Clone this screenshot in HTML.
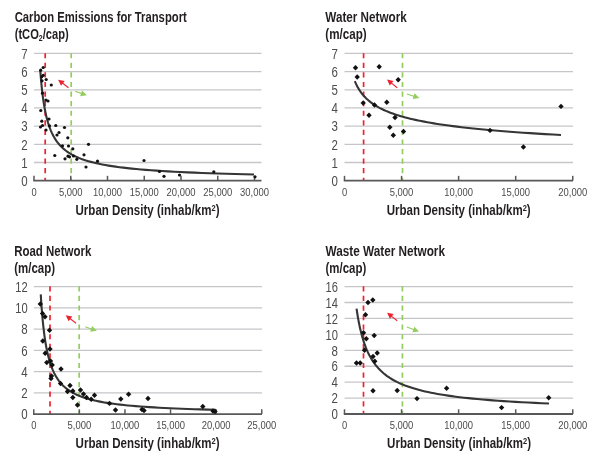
<!DOCTYPE html>
<html><head><meta charset="utf-8"><style>
html,body{margin:0;padding:0;background:#fff;}
svg{display:block;filter:blur(0.45px);}
text{font-family:"Liberation Sans",sans-serif;}
.tt{font-weight:bold;font-size:14.4px;fill:#231f20;}
.sub{font-size:9px;}
.sup{font-size:9.4px;font-weight:bold;}
.yl{font-size:15px;fill:#4b4b4d;}
.xl{font-size:10.7px;fill:#4b4b4d;}
</style></head><body>
<svg width="600" height="457" viewBox="0 0 600 457">
<rect width="600" height="457" fill="#fff"/>
<line x1="34" y1="162.48" x2="261.5" y2="162.48" stroke="#c6c6ca" stroke-width="1.3"/>
<line x1="34" y1="144.31" x2="261.5" y2="144.31" stroke="#c6c6ca" stroke-width="1.3"/>
<line x1="34" y1="126.14" x2="261.5" y2="126.14" stroke="#c6c6ca" stroke-width="1.3"/>
<line x1="34" y1="107.97" x2="261.5" y2="107.97" stroke="#c6c6ca" stroke-width="1.3"/>
<line x1="34" y1="89.8" x2="261.5" y2="89.8" stroke="#c6c6ca" stroke-width="1.3"/>
<line x1="34" y1="71.63" x2="261.5" y2="71.63" stroke="#c6c6ca" stroke-width="1.3"/>
<line x1="34" y1="53.46" x2="261.5" y2="53.46" stroke="#c6c6ca" stroke-width="1.3"/>
<line x1="45.2" y1="53.16" x2="45.2" y2="180.65" stroke="#ee2330" stroke-width="1.7" stroke-dasharray="5.2 4.38"/>
<line x1="71.2" y1="53.16" x2="71.2" y2="180.65" stroke="#93cd5f" stroke-width="1.7" stroke-dasharray="5.2 4.38"/>
<line x1="33.3" y1="180.65" x2="261.5" y2="180.65" stroke="#58585a" stroke-width="1.9"/>
<line x1="34" y1="175.85" x2="34" y2="180.65" stroke="#58585a" stroke-width="1.5"/>
<line x1="70.75" y1="175.85" x2="70.75" y2="180.65" stroke="#58585a" stroke-width="1.5"/>
<line x1="107.5" y1="175.85" x2="107.5" y2="180.65" stroke="#58585a" stroke-width="1.5"/>
<line x1="144.25" y1="175.85" x2="144.25" y2="180.65" stroke="#58585a" stroke-width="1.5"/>
<line x1="181" y1="175.85" x2="181" y2="180.65" stroke="#58585a" stroke-width="1.5"/>
<line x1="217.75" y1="175.85" x2="217.75" y2="180.65" stroke="#58585a" stroke-width="1.5"/>
<line x1="254.5" y1="175.85" x2="254.5" y2="180.65" stroke="#58585a" stroke-width="1.5"/>
<path d="M40.25 69.5 L40.54 73.42 L40.84 77.19 L41.15 80.84 L41.48 84.36 L41.83 87.75 L42.19 91.02 L42.57 94.18 L42.96 97.23 L43.38 100.17 L43.81 103 L44.26 105.74 L44.73 108.38 L45.23 110.92 L45.75 113.38 L46.29 115.75 L46.86 118.04 L47.45 120.24 L48.07 122.37 L48.72 124.42 L49.4 126.41 L50.11 128.32 L50.85 130.16 L51.63 131.94 L52.44 133.66 L53.29 135.31 L54.18 136.91 L55.11 138.45 L56.08 139.94 L57.1 141.37 L58.16 142.76 L59.28 144.09 L60.44 145.38 L61.66 146.62 L62.94 147.82 L64.27 148.98 L65.67 150.09 L67.13 151.17 L68.66 152.21 L70.25 153.21 L71.93 154.18 L73.67 155.11 L75.5 156.01 L77.42 156.88 L79.42 157.72 L81.51 158.52 L83.7 159.3 L86 160.06 L88.39 160.78 L90.9 161.48 L93.53 162.16 L96.27 162.81 L99.14 163.44 L102.14 164.04 L105.29 164.63 L108.57 165.19 L112.01 165.74 L115.61 166.26 L119.37 166.77 L123.31 167.26 L127.43 167.73 L131.73 168.19 L136.24 168.62 L140.95 169.05 L145.89 169.46 L151.04 169.85 L156.44 170.23 L162.09 170.6 L167.99 170.95 L174.17 171.29 L180.63 171.62 L187.39 171.94 L194.47 172.25 L201.87 172.55 L209.61 172.83 L217.7 173.11 L226.17 173.37 L235.03 173.63 L244.3 173.88 L254 174.11" fill="none" stroke="#353535" stroke-width="2.1" stroke-linecap="butt" transform="translate(0 0.4)"/>
<circle cx="43.2" cy="67.5" r="1.6" fill="#111"/>
<circle cx="40.7" cy="70.2" r="1.6" fill="#111"/>
<circle cx="43.2" cy="75.3" r="1.6" fill="#111"/>
<circle cx="41.7" cy="76.8" r="1.6" fill="#111"/>
<circle cx="46.2" cy="79.5" r="1.6" fill="#111"/>
<circle cx="42" cy="80.8" r="1.6" fill="#111"/>
<circle cx="51.3" cy="85" r="1.6" fill="#111"/>
<circle cx="42.5" cy="93.2" r="1.6" fill="#111"/>
<circle cx="46" cy="100" r="1.6" fill="#111"/>
<circle cx="48" cy="101" r="1.6" fill="#111"/>
<circle cx="40.8" cy="110.5" r="1.6" fill="#111"/>
<circle cx="49" cy="119" r="1.6" fill="#111"/>
<circle cx="41.8" cy="121.2" r="1.6" fill="#111"/>
<circle cx="40.5" cy="127" r="1.6" fill="#111"/>
<circle cx="42.5" cy="125.5" r="1.6" fill="#111"/>
<circle cx="49.5" cy="125.8" r="1.6" fill="#111"/>
<circle cx="55.8" cy="125.5" r="1.6" fill="#111"/>
<circle cx="64.5" cy="127.5" r="1.6" fill="#111"/>
<circle cx="46" cy="130" r="1.6" fill="#111"/>
<circle cx="57" cy="135" r="1.6" fill="#111"/>
<circle cx="59" cy="132.5" r="1.6" fill="#111"/>
<circle cx="67.8" cy="137.8" r="1.6" fill="#111"/>
<circle cx="88.5" cy="144.3" r="1.6" fill="#111"/>
<circle cx="62.5" cy="145.8" r="1.6" fill="#111"/>
<circle cx="68.5" cy="146" r="1.6" fill="#111"/>
<circle cx="72.8" cy="148.8" r="1.6" fill="#111"/>
<circle cx="54.8" cy="155.5" r="1.6" fill="#111"/>
<circle cx="68" cy="156.2" r="1.6" fill="#111"/>
<circle cx="69.5" cy="156.8" r="1.6" fill="#111"/>
<circle cx="73.5" cy="156" r="1.6" fill="#111"/>
<circle cx="84" cy="154.8" r="1.6" fill="#111"/>
<circle cx="65" cy="158.8" r="1.6" fill="#111"/>
<circle cx="76.8" cy="159.3" r="1.6" fill="#111"/>
<circle cx="86" cy="167" r="1.6" fill="#111"/>
<circle cx="97.5" cy="161.2" r="1.6" fill="#111"/>
<circle cx="144" cy="160.5" r="1.6" fill="#111"/>
<circle cx="159.5" cy="171.5" r="1.6" fill="#111"/>
<circle cx="164" cy="176.3" r="1.6" fill="#111"/>
<circle cx="179.5" cy="175" r="1.6" fill="#111"/>
<circle cx="213.8" cy="171.8" r="1.6" fill="#111"/>
<circle cx="255" cy="176.8" r="1.6" fill="#111"/>
<line x1="68.5" y1="87.7" x2="62.06" y2="82.75" stroke="#ee2330" stroke-width="1.1"/>
<path d="M58.1 79.7L64.68 80.98L61.03 85.74Z" fill="#ee2330"/>
<line x1="75.2" y1="91.3" x2="82.06" y2="93.61" stroke="#93cd5f" stroke-width="1.1"/>
<path d="M86.8 95.2L80.16 96.13L82.07 90.44Z" fill="#93cd5f"/>
<text x="27.6" y="185.85" text-anchor="end" class="yl" textLength="6.4" lengthAdjust="spacingAndGlyphs">0</text>
<text x="27.6" y="167.68" text-anchor="end" class="yl" textLength="6.4" lengthAdjust="spacingAndGlyphs">1</text>
<text x="27.6" y="149.51" text-anchor="end" class="yl" textLength="6.4" lengthAdjust="spacingAndGlyphs">2</text>
<text x="27.6" y="131.34" text-anchor="end" class="yl" textLength="6.4" lengthAdjust="spacingAndGlyphs">3</text>
<text x="27.6" y="113.17" text-anchor="end" class="yl" textLength="6.4" lengthAdjust="spacingAndGlyphs">4</text>
<text x="27.6" y="95" text-anchor="end" class="yl" textLength="6.4" lengthAdjust="spacingAndGlyphs">5</text>
<text x="27.6" y="76.83" text-anchor="end" class="yl" textLength="6.4" lengthAdjust="spacingAndGlyphs">6</text>
<text x="27.6" y="58.66" text-anchor="end" class="yl" textLength="6.4" lengthAdjust="spacingAndGlyphs">7</text>
<text x="31.4" y="195.85" class="xl" textLength="5.2" lengthAdjust="spacingAndGlyphs">0</text>
<text x="58.95" y="195.85" class="xl" textLength="23.6" lengthAdjust="spacingAndGlyphs">5,000</text>
<text x="93.1" y="195.85" class="xl" textLength="28.8" lengthAdjust="spacingAndGlyphs">10,000</text>
<text x="129.85" y="195.85" class="xl" textLength="28.8" lengthAdjust="spacingAndGlyphs">15,000</text>
<text x="166.6" y="195.85" class="xl" textLength="28.8" lengthAdjust="spacingAndGlyphs">20,000</text>
<text x="203.35" y="195.85" class="xl" textLength="28.8" lengthAdjust="spacingAndGlyphs">25,000</text>
<text x="240.1" y="195.85" class="xl" textLength="28.8" lengthAdjust="spacingAndGlyphs">30,000</text>
<text x="14.7" y="21.8" class="tt" textLength="172.1" lengthAdjust="spacingAndGlyphs">Carbon Emissions for Transport</text>
<text x="14.7" y="38.9" class="tt" textLength="54.1" lengthAdjust="spacingAndGlyphs">(tCO<tspan class="sub" dy="2">2</tspan><tspan dy="-2">/cap)</tspan></text>
<text x="75.5" y="215.4" class="tt" textLength="144" lengthAdjust="spacingAndGlyphs">Urban Density (inhab/km<tspan class="sup" dy="-4">2</tspan><tspan dy="4">)</tspan></text>
<line x1="344.5" y1="162.48" x2="573" y2="162.48" stroke="#c6c6ca" stroke-width="1.3"/>
<line x1="344.5" y1="144.31" x2="573" y2="144.31" stroke="#c6c6ca" stroke-width="1.3"/>
<line x1="344.5" y1="126.14" x2="573" y2="126.14" stroke="#c6c6ca" stroke-width="1.3"/>
<line x1="344.5" y1="107.97" x2="573" y2="107.97" stroke="#c6c6ca" stroke-width="1.3"/>
<line x1="344.5" y1="89.8" x2="573" y2="89.8" stroke="#c6c6ca" stroke-width="1.3"/>
<line x1="344.5" y1="71.63" x2="573" y2="71.63" stroke="#c6c6ca" stroke-width="1.3"/>
<line x1="344.5" y1="53.46" x2="573" y2="53.46" stroke="#c6c6ca" stroke-width="1.3"/>
<line x1="363.6" y1="53.16" x2="363.6" y2="180.65" stroke="#ee2330" stroke-width="1.7" stroke-dasharray="5.2 4.38"/>
<line x1="402.5" y1="53.16" x2="402.5" y2="180.65" stroke="#93cd5f" stroke-width="1.7" stroke-dasharray="5.2 4.38"/>
<line x1="343.8" y1="180.65" x2="573" y2="180.65" stroke="#58585a" stroke-width="1.9"/>
<line x1="344.5" y1="175.85" x2="344.5" y2="180.65" stroke="#58585a" stroke-width="1.5"/>
<line x1="401.56" y1="175.85" x2="401.56" y2="180.65" stroke="#58585a" stroke-width="1.5"/>
<line x1="458.62" y1="175.85" x2="458.62" y2="180.65" stroke="#58585a" stroke-width="1.5"/>
<line x1="515.68" y1="175.85" x2="515.68" y2="180.65" stroke="#58585a" stroke-width="1.5"/>
<line x1="572.74" y1="175.85" x2="572.74" y2="180.65" stroke="#58585a" stroke-width="1.5"/>
<path d="M354.86 80.8 L355.26 81.77 L355.69 82.74 L356.13 83.69 L356.58 84.64 L357.06 85.57 L357.55 86.5 L358.06 87.42 L358.59 88.33 L359.14 89.23 L359.72 90.12 L360.32 91 L360.94 91.87 L361.58 92.74 L362.25 93.6 L362.95 94.44 L363.67 95.28 L364.42 96.12 L365.21 96.94 L366.02 97.76 L366.86 98.56 L367.74 99.36 L368.65 100.16 L369.6 100.94 L370.58 101.72 L371.61 102.49 L372.67 103.25 L373.77 104 L374.92 104.75 L376.12 105.49 L377.36 106.22 L378.64 106.95 L379.98 107.67 L381.38 108.38 L382.82 109.08 L384.33 109.78 L385.89 110.47 L387.51 111.16 L389.2 111.83 L390.95 112.5 L392.78 113.17 L394.67 113.83 L396.64 114.48 L398.68 115.12 L400.81 115.76 L403.02 116.39 L405.31 117.02 L407.7 117.64 L410.18 118.26 L412.75 118.86 L415.43 119.47 L418.21 120.06 L421.11 120.65 L424.11 121.24 L427.23 121.82 L430.48 122.39 L433.85 122.96 L437.36 123.52 L441 124.08 L444.78 124.63 L448.72 125.17 L452.81 125.72 L457.06 126.25 L461.47 126.78 L466.06 127.31 L470.83 127.83 L475.78 128.34 L480.93 128.85 L486.29 129.36 L491.85 129.86 L497.63 130.35 L503.64 130.84 L509.88 131.33 L516.37 131.81 L523.11 132.28 L530.12 132.76 L537.4 133.22 L544.96 133.68 L552.83 134.14 L561 134.6" fill="none" stroke="#353535" stroke-width="2.1" stroke-linecap="butt" transform="translate(0 0.4)"/>
<path d="M355.5 65.1L358.2 67.8L355.5 70.5L352.8 67.8Z" fill="#111"/>
<path d="M379.2 64L381.9 66.7L379.2 69.4L376.5 66.7Z" fill="#111"/>
<path d="M357.2 74.3L359.9 77L357.2 79.7L354.5 77Z" fill="#111"/>
<path d="M398.2 77L400.9 79.7L398.2 82.4L395.5 79.7Z" fill="#111"/>
<path d="M363.2 100.3L365.9 103L363.2 105.7L360.5 103Z" fill="#111"/>
<path d="M374.5 102.3L377.2 105L374.5 107.7L371.8 105Z" fill="#111"/>
<path d="M386.8 99.6L389.5 102.3L386.8 105L384.1 102.3Z" fill="#111"/>
<path d="M369 112.6L371.7 115.3L369 118L366.3 115.3Z" fill="#111"/>
<path d="M395 114.8L397.7 117.5L395 120.2L392.3 117.5Z" fill="#111"/>
<path d="M389.8 124.5L392.5 127.2L389.8 129.9L387.1 127.2Z" fill="#111"/>
<path d="M393.3 132.5L396 135.2L393.3 137.9L390.6 135.2Z" fill="#111"/>
<path d="M403.5 128.8L406.2 131.5L403.5 134.2L400.8 131.5Z" fill="#111"/>
<path d="M490 127.7L492.7 130.4L490 133.1L487.3 130.4Z" fill="#111"/>
<path d="M523.4 144.3L526.1 147L523.4 149.7L520.7 147Z" fill="#111"/>
<path d="M561 103.7L563.7 106.4L561 109.1L558.3 106.4Z" fill="#111"/>
<line x1="397.2" y1="87.8" x2="390.88" y2="82.66" stroke="#ee2330" stroke-width="1.1"/>
<path d="M387 79.5L393.55 80.96L389.76 85.61Z" fill="#ee2330"/>
<line x1="406.9" y1="94" x2="414.54" y2="96.46" stroke="#93cd5f" stroke-width="1.1"/>
<path d="M419.3 98L412.67 99.01L414.51 93.3Z" fill="#93cd5f"/>
<text x="338" y="185.85" text-anchor="end" class="yl" textLength="6.4" lengthAdjust="spacingAndGlyphs">0</text>
<text x="338" y="167.68" text-anchor="end" class="yl" textLength="6.4" lengthAdjust="spacingAndGlyphs">1</text>
<text x="338" y="149.51" text-anchor="end" class="yl" textLength="6.4" lengthAdjust="spacingAndGlyphs">2</text>
<text x="338" y="131.34" text-anchor="end" class="yl" textLength="6.4" lengthAdjust="spacingAndGlyphs">3</text>
<text x="338" y="113.17" text-anchor="end" class="yl" textLength="6.4" lengthAdjust="spacingAndGlyphs">4</text>
<text x="338" y="95" text-anchor="end" class="yl" textLength="6.4" lengthAdjust="spacingAndGlyphs">5</text>
<text x="338" y="76.83" text-anchor="end" class="yl" textLength="6.4" lengthAdjust="spacingAndGlyphs">6</text>
<text x="338" y="58.66" text-anchor="end" class="yl" textLength="6.4" lengthAdjust="spacingAndGlyphs">7</text>
<text x="341.9" y="195.85" class="xl" textLength="5.2" lengthAdjust="spacingAndGlyphs">0</text>
<text x="389.76" y="195.85" class="xl" textLength="23.6" lengthAdjust="spacingAndGlyphs">5,000</text>
<text x="444.22" y="195.85" class="xl" textLength="28.8" lengthAdjust="spacingAndGlyphs">10,000</text>
<text x="501.28" y="195.85" class="xl" textLength="28.8" lengthAdjust="spacingAndGlyphs">15,000</text>
<text x="558.34" y="195.85" class="xl" textLength="28.8" lengthAdjust="spacingAndGlyphs">20,000</text>
<text x="325.3" y="21.8" class="tt" textLength="81.4" lengthAdjust="spacingAndGlyphs">Water Network</text>
<text x="325.3" y="38.9" class="tt" textLength="41.4" lengthAdjust="spacingAndGlyphs">(m/cap)</text>
<text x="386.7" y="215.4" class="tt" textLength="144" lengthAdjust="spacingAndGlyphs">Urban Density (inhab/km<tspan class="sup" dy="-4">2</tspan><tspan dy="4">)</tspan></text>
<line x1="33.75" y1="392.84" x2="262" y2="392.84" stroke="#c6c6ca" stroke-width="1.3"/>
<line x1="33.75" y1="371.58" x2="262" y2="371.58" stroke="#c6c6ca" stroke-width="1.3"/>
<line x1="33.75" y1="350.32" x2="262" y2="350.32" stroke="#c6c6ca" stroke-width="1.3"/>
<line x1="33.75" y1="329.06" x2="262" y2="329.06" stroke="#c6c6ca" stroke-width="1.3"/>
<line x1="33.75" y1="307.8" x2="262" y2="307.8" stroke="#c6c6ca" stroke-width="1.3"/>
<line x1="33.75" y1="286.54" x2="262" y2="286.54" stroke="#c6c6ca" stroke-width="1.3"/>
<line x1="50" y1="286.24" x2="50" y2="414.1" stroke="#ee2330" stroke-width="1.7" stroke-dasharray="5.2 4.38"/>
<line x1="79.2" y1="286.24" x2="79.2" y2="414.1" stroke="#93cd5f" stroke-width="1.7" stroke-dasharray="5.2 4.38"/>
<line x1="33.05" y1="414.1" x2="262" y2="414.1" stroke="#58585a" stroke-width="1.9"/>
<line x1="33.75" y1="409.3" x2="33.75" y2="414.1" stroke="#58585a" stroke-width="1.5"/>
<line x1="79.35" y1="409.3" x2="79.35" y2="414.1" stroke="#58585a" stroke-width="1.5"/>
<line x1="124.95" y1="409.3" x2="124.95" y2="414.1" stroke="#58585a" stroke-width="1.5"/>
<line x1="170.55" y1="409.3" x2="170.55" y2="414.1" stroke="#58585a" stroke-width="1.5"/>
<line x1="216.15" y1="409.3" x2="216.15" y2="414.1" stroke="#58585a" stroke-width="1.5"/>
<line x1="261.75" y1="409.3" x2="261.75" y2="414.1" stroke="#58585a" stroke-width="1.5"/>
<path d="M40.76 294 L41.06 298.82 L41.36 303.45 L41.68 307.9 L42.02 312.17 L42.37 316.26 L42.73 320.19 L43.11 323.96 L43.5 327.58 L43.91 331.06 L44.34 334.39 L44.78 337.6 L45.25 340.67 L45.73 343.62 L46.23 346.45 L46.76 349.17 L47.31 351.78 L47.88 354.28 L48.47 356.68 L49.09 358.99 L49.74 361.2 L50.41 363.33 L51.11 365.37 L51.84 367.32 L52.6 369.2 L53.39 371.01 L54.22 372.74 L55.08 374.4 L55.98 375.99 L56.91 377.53 L57.89 378.99 L58.9 380.4 L59.96 381.76 L61.06 383.06 L62.21 384.3 L63.41 385.5 L64.66 386.65 L65.96 387.75 L67.31 388.81 L68.72 389.83 L70.19 390.8 L71.73 391.74 L73.32 392.64 L74.99 393.5 L76.72 394.33 L78.53 395.12 L80.41 395.88 L82.38 396.61 L84.42 397.32 L86.55 397.99 L88.77 398.64 L91.09 399.26 L93.5 399.86 L96.01 400.43 L98.63 400.98 L101.36 401.5 L104.21 402.01 L107.17 402.5 L110.26 402.96 L113.47 403.41 L116.83 403.84 L120.32 404.25 L123.96 404.65 L127.76 405.03 L131.71 405.39 L135.83 405.74 L140.13 406.08 L144.6 406.4 L149.27 406.71 L154.12 407 L159.19 407.29 L164.46 407.56 L169.96 407.83 L175.69 408.08 L181.66 408.32 L187.88 408.55 L194.37 408.78 L201.12 408.99 L208.16 409.19 L215.5 409.39" fill="none" stroke="#353535" stroke-width="2.1" stroke-linecap="butt" transform="translate(0 0.4)"/>
<path d="M40.3 301.3L43 304L40.3 306.7L37.6 304Z" fill="#111"/>
<path d="M42.5 310.8L45.2 313.5L42.5 316.2L39.8 313.5Z" fill="#111"/>
<path d="M45 314.1L47.7 316.8L45 319.5L42.3 316.8Z" fill="#111"/>
<path d="M49.5 327.6L52.2 330.3L49.5 333L46.8 330.3Z" fill="#111"/>
<path d="M42.8 338.3L45.5 341L42.8 343.7L40.1 341Z" fill="#111"/>
<path d="M50 346.3L52.7 349L50 351.7L47.3 349Z" fill="#111"/>
<path d="M45.2 350.5L47.9 353.2L45.2 355.9L42.5 353.2Z" fill="#111"/>
<path d="M46.8 359.8L49.5 362.5L46.8 365.2L44.1 362.5Z" fill="#111"/>
<path d="M50.5 358.3L53.2 361L50.5 363.7L47.8 361Z" fill="#111"/>
<path d="M52.2 362.3L54.9 365L52.2 367.7L49.5 365Z" fill="#111"/>
<path d="M61 366.3L63.7 369L61 371.7L58.3 369Z" fill="#111"/>
<path d="M51.5 373.3L54.2 376L51.5 378.7L48.8 376Z" fill="#111"/>
<path d="M51 375.8L53.7 378.5L51 381.2L48.3 378.5Z" fill="#111"/>
<path d="M60.5 380.8L63.2 383.5L60.5 386.2L57.8 383.5Z" fill="#111"/>
<path d="M70 382.8L72.7 385.5L70 388.2L67.3 385.5Z" fill="#111"/>
<path d="M67.5 388.8L70.2 391.5L67.5 394.2L64.8 391.5Z" fill="#111"/>
<path d="M72.8 388.3L75.5 391L72.8 393.7L70.1 391Z" fill="#111"/>
<path d="M80.5 387.3L83.2 390L80.5 392.7L77.8 390Z" fill="#111"/>
<path d="M83.5 391.3L86.2 394L83.5 396.7L80.8 394Z" fill="#111"/>
<path d="M72.8 394.8L75.5 397.5L72.8 400.2L70.1 397.5Z" fill="#111"/>
<path d="M86.5 394.8L89.2 397.5L86.5 400.2L83.8 397.5Z" fill="#111"/>
<path d="M77.5 402.3L80.2 405L77.5 407.7L74.8 405Z" fill="#111"/>
<path d="M91.2 396.5L93.9 399.2L91.2 401.9L88.5 399.2Z" fill="#111"/>
<path d="M94.5 392.5L97.2 395.2L94.5 397.9L91.8 395.2Z" fill="#111"/>
<path d="M109.5 400.7L112.2 403.4L109.5 406.1L106.8 403.4Z" fill="#111"/>
<path d="M115.5 407.3L118.2 410L115.5 412.7L112.8 410Z" fill="#111"/>
<path d="M120.8 396.3L123.5 399L120.8 401.7L118.1 399Z" fill="#111"/>
<path d="M128.6 391.6L131.3 394.3L128.6 397L125.9 394.3Z" fill="#111"/>
<path d="M142 406.8L144.7 409.5L142 412.2L139.3 409.5Z" fill="#111"/>
<path d="M144 407.8L146.7 410.5L144 413.2L141.3 410.5Z" fill="#111"/>
<path d="M148 395.8L150.7 398.5L148 401.2L145.3 398.5Z" fill="#111"/>
<path d="M202.8 403.8L205.5 406.5L202.8 409.2L200.1 406.5Z" fill="#111"/>
<path d="M213 408.3L215.7 411L213 413.7L210.3 411Z" fill="#111"/>
<path d="M215 408.8L217.7 411.5L215 414.2L212.3 411.5Z" fill="#111"/>
<line x1="76" y1="323.2" x2="69.65" y2="318.27" stroke="#ee2330" stroke-width="1.1"/>
<path d="M65.7 315.2L72.28 316.51L68.6 321.25Z" fill="#ee2330"/>
<line x1="85.2" y1="326.8" x2="92.07" y2="329.17" stroke="#93cd5f" stroke-width="1.1"/>
<path d="M96.8 330.8L90.15 331.68L92.11 326.01Z" fill="#93cd5f"/>
<text x="27.7" y="419.3" text-anchor="end" class="yl" textLength="6.4" lengthAdjust="spacingAndGlyphs">0</text>
<text x="27.7" y="398.04" text-anchor="end" class="yl" textLength="6.4" lengthAdjust="spacingAndGlyphs">2</text>
<text x="27.7" y="376.78" text-anchor="end" class="yl" textLength="6.4" lengthAdjust="spacingAndGlyphs">4</text>
<text x="27.7" y="355.52" text-anchor="end" class="yl" textLength="6.4" lengthAdjust="spacingAndGlyphs">6</text>
<text x="27.7" y="334.26" text-anchor="end" class="yl" textLength="6.4" lengthAdjust="spacingAndGlyphs">8</text>
<text x="27.7" y="313" text-anchor="end" class="yl" textLength="12.4" lengthAdjust="spacingAndGlyphs">10</text>
<text x="27.7" y="291.74" text-anchor="end" class="yl" textLength="12.4" lengthAdjust="spacingAndGlyphs">12</text>
<text x="31.15" y="429.3" class="xl" textLength="5.2" lengthAdjust="spacingAndGlyphs">0</text>
<text x="67.55" y="429.3" class="xl" textLength="23.6" lengthAdjust="spacingAndGlyphs">5,000</text>
<text x="110.55" y="429.3" class="xl" textLength="28.8" lengthAdjust="spacingAndGlyphs">10,000</text>
<text x="156.15" y="429.3" class="xl" textLength="28.8" lengthAdjust="spacingAndGlyphs">15,000</text>
<text x="201.75" y="429.3" class="xl" textLength="28.8" lengthAdjust="spacingAndGlyphs">20,000</text>
<text x="247.35" y="429.3" class="xl" textLength="28.8" lengthAdjust="spacingAndGlyphs">25,000</text>
<text x="14.2" y="255.8" class="tt" textLength="77.1" lengthAdjust="spacingAndGlyphs">Road Network</text>
<text x="14.2" y="272.9" class="tt" textLength="40.8" lengthAdjust="spacingAndGlyphs">(m/cap)</text>
<text x="75.6" y="448" class="tt" textLength="144" lengthAdjust="spacingAndGlyphs">Urban Density (inhab/km<tspan class="sup" dy="-4">2</tspan><tspan dy="4">)</tspan></text>
<line x1="344.5" y1="398.12" x2="573" y2="398.12" stroke="#c6c6ca" stroke-width="1.3"/>
<line x1="344.5" y1="382.18" x2="573" y2="382.18" stroke="#c6c6ca" stroke-width="1.3"/>
<line x1="344.5" y1="366.25" x2="573" y2="366.25" stroke="#c6c6ca" stroke-width="1.3"/>
<line x1="344.5" y1="350.31" x2="573" y2="350.31" stroke="#c6c6ca" stroke-width="1.3"/>
<line x1="344.5" y1="334.38" x2="573" y2="334.38" stroke="#c6c6ca" stroke-width="1.3"/>
<line x1="344.5" y1="318.44" x2="573" y2="318.44" stroke="#c6c6ca" stroke-width="1.3"/>
<line x1="344.5" y1="302.5" x2="573" y2="302.5" stroke="#c6c6ca" stroke-width="1.3"/>
<line x1="344.5" y1="286.57" x2="573" y2="286.57" stroke="#c6c6ca" stroke-width="1.3"/>
<line x1="363.5" y1="286.27" x2="363.5" y2="414.05" stroke="#ee2330" stroke-width="1.7" stroke-dasharray="5.2 4.38"/>
<line x1="402.4" y1="286.27" x2="402.4" y2="414.05" stroke="#93cd5f" stroke-width="1.7" stroke-dasharray="5.2 4.38"/>
<line x1="343.8" y1="414.05" x2="573" y2="414.05" stroke="#58585a" stroke-width="1.9"/>
<line x1="344.5" y1="409.25" x2="344.5" y2="414.05" stroke="#58585a" stroke-width="1.5"/>
<line x1="401.56" y1="409.25" x2="401.56" y2="414.05" stroke="#58585a" stroke-width="1.5"/>
<line x1="458.62" y1="409.25" x2="458.62" y2="414.05" stroke="#58585a" stroke-width="1.5"/>
<line x1="515.68" y1="409.25" x2="515.68" y2="414.05" stroke="#58585a" stroke-width="1.5"/>
<line x1="572.74" y1="409.25" x2="572.74" y2="414.05" stroke="#58585a" stroke-width="1.5"/>
<path d="M356.56 308.2 L357 311.2 L357.46 314.12 L357.93 316.95 L358.42 319.71 L358.93 322.38 L359.46 324.99 L360 327.51 L360.57 329.97 L361.15 332.35 L361.76 334.67 L362.39 336.92 L363.04 339.11 L363.72 341.23 L364.42 343.3 L365.15 345.31 L365.9 347.26 L366.68 349.15 L367.49 350.99 L368.33 352.78 L369.2 354.52 L370.1 356.21 L371.03 357.85 L372 359.44 L373 360.99 L374.04 362.5 L375.12 363.96 L376.24 365.38 L377.4 366.76 L378.6 368.1 L379.84 369.41 L381.13 370.67 L382.47 371.9 L383.85 373.1 L385.29 374.26 L386.77 375.39 L388.32 376.48 L389.91 377.55 L391.57 378.59 L393.29 379.59 L395.07 380.57 L396.91 381.52 L398.82 382.44 L400.8 383.34 L402.86 384.21 L404.99 385.06 L407.19 385.88 L409.48 386.68 L411.85 387.45 L414.31 388.21 L416.85 388.94 L419.49 389.65 L422.23 390.35 L425.06 391.02 L428 391.67 L431.05 392.31 L434.21 392.92 L437.48 393.52 L440.87 394.1 L444.38 394.67 L448.03 395.22 L451.8 395.75 L455.72 396.27 L459.78 396.78 L463.98 397.27 L468.34 397.74 L472.86 398.21 L477.54 398.66 L482.39 399.09 L487.42 399.52 L492.63 399.93 L498.04 400.33 L503.64 400.72 L509.44 401.1 L515.46 401.46 L521.7 401.82 L528.16 402.17 L534.86 402.51 L541.8 402.83 L549 403.15" fill="none" stroke="#353535" stroke-width="2.1" stroke-linecap="butt" transform="translate(0 0.4)"/>
<path d="M368 299.8L370.7 302.5L368 305.2L365.3 302.5Z" fill="#111"/>
<path d="M372.8 297.3L375.5 300L372.8 302.7L370.1 300Z" fill="#111"/>
<path d="M365.5 312.1L368.2 314.8L365.5 317.5L362.8 314.8Z" fill="#111"/>
<path d="M363.5 330.1L366.2 332.8L363.5 335.5L360.8 332.8Z" fill="#111"/>
<path d="M374.2 332.8L376.9 335.5L374.2 338.2L371.5 335.5Z" fill="#111"/>
<path d="M366.3 336.1L369 338.8L366.3 341.5L363.6 338.8Z" fill="#111"/>
<path d="M364.5 347.5L367.2 350.2L364.5 352.9L361.8 350.2Z" fill="#111"/>
<path d="M377.2 350.3L379.9 353L377.2 355.7L374.5 353Z" fill="#111"/>
<path d="M373 353.8L375.7 356.5L373 359.2L370.3 356.5Z" fill="#111"/>
<path d="M374.8 358.6L377.5 361.3L374.8 364L372.1 361.3Z" fill="#111"/>
<path d="M356.5 360.3L359.2 363L356.5 365.7L353.8 363Z" fill="#111"/>
<path d="M360.2 360.3L362.9 363L360.2 365.7L357.5 363Z" fill="#111"/>
<path d="M373 388.1L375.7 390.8L373 393.5L370.3 390.8Z" fill="#111"/>
<path d="M397.2 387.8L399.9 390.5L397.2 393.2L394.5 390.5Z" fill="#111"/>
<path d="M417 395.9L419.7 398.6L417 401.3L414.3 398.6Z" fill="#111"/>
<path d="M446.6 385.5L449.3 388.2L446.6 390.9L443.9 388.2Z" fill="#111"/>
<path d="M501.6 404.9L504.3 407.6L501.6 410.3L498.9 407.6Z" fill="#111"/>
<path d="M548.7 395L551.4 397.7L548.7 400.4L546 397.7Z" fill="#111"/>
<line x1="397.25" y1="320.8" x2="391.01" y2="315.82" stroke="#ee2330" stroke-width="1.1"/>
<path d="M387.1 312.7L393.66 314.1L389.92 318.79Z" fill="#ee2330"/>
<line x1="406.8" y1="327.1" x2="414.3" y2="329.8" stroke="#93cd5f" stroke-width="1.1"/>
<path d="M419 331.5L412.34 332.29L414.37 326.64Z" fill="#93cd5f"/>
<text x="338" y="419.25" text-anchor="end" class="yl" textLength="6.4" lengthAdjust="spacingAndGlyphs">0</text>
<text x="338" y="403.31" text-anchor="end" class="yl" textLength="6.4" lengthAdjust="spacingAndGlyphs">2</text>
<text x="338" y="387.38" text-anchor="end" class="yl" textLength="6.4" lengthAdjust="spacingAndGlyphs">4</text>
<text x="338" y="371.44" text-anchor="end" class="yl" textLength="6.4" lengthAdjust="spacingAndGlyphs">6</text>
<text x="338" y="355.51" text-anchor="end" class="yl" textLength="6.4" lengthAdjust="spacingAndGlyphs">8</text>
<text x="338" y="339.57" text-anchor="end" class="yl" textLength="12.4" lengthAdjust="spacingAndGlyphs">10</text>
<text x="338" y="323.64" text-anchor="end" class="yl" textLength="12.4" lengthAdjust="spacingAndGlyphs">12</text>
<text x="338" y="307.7" text-anchor="end" class="yl" textLength="12.4" lengthAdjust="spacingAndGlyphs">14</text>
<text x="338" y="291.77" text-anchor="end" class="yl" textLength="12.4" lengthAdjust="spacingAndGlyphs">16</text>
<text x="341.9" y="429.25" class="xl" textLength="5.2" lengthAdjust="spacingAndGlyphs">0</text>
<text x="389.76" y="429.25" class="xl" textLength="23.6" lengthAdjust="spacingAndGlyphs">5,000</text>
<text x="444.22" y="429.25" class="xl" textLength="28.8" lengthAdjust="spacingAndGlyphs">10,000</text>
<text x="501.28" y="429.25" class="xl" textLength="28.8" lengthAdjust="spacingAndGlyphs">15,000</text>
<text x="558.34" y="429.25" class="xl" textLength="28.8" lengthAdjust="spacingAndGlyphs">20,000</text>
<text x="325.5" y="255.8" class="tt" textLength="119.5" lengthAdjust="spacingAndGlyphs">Waste Water Network</text>
<text x="325.5" y="272.9" class="tt" textLength="40.75" lengthAdjust="spacingAndGlyphs">(m/cap)</text>
<text x="387.1" y="448" class="tt" textLength="144" lengthAdjust="spacingAndGlyphs">Urban Density (inhab/km<tspan class="sup" dy="-4">2</tspan><tspan dy="4">)</tspan></text>
</svg>
</body></html>
